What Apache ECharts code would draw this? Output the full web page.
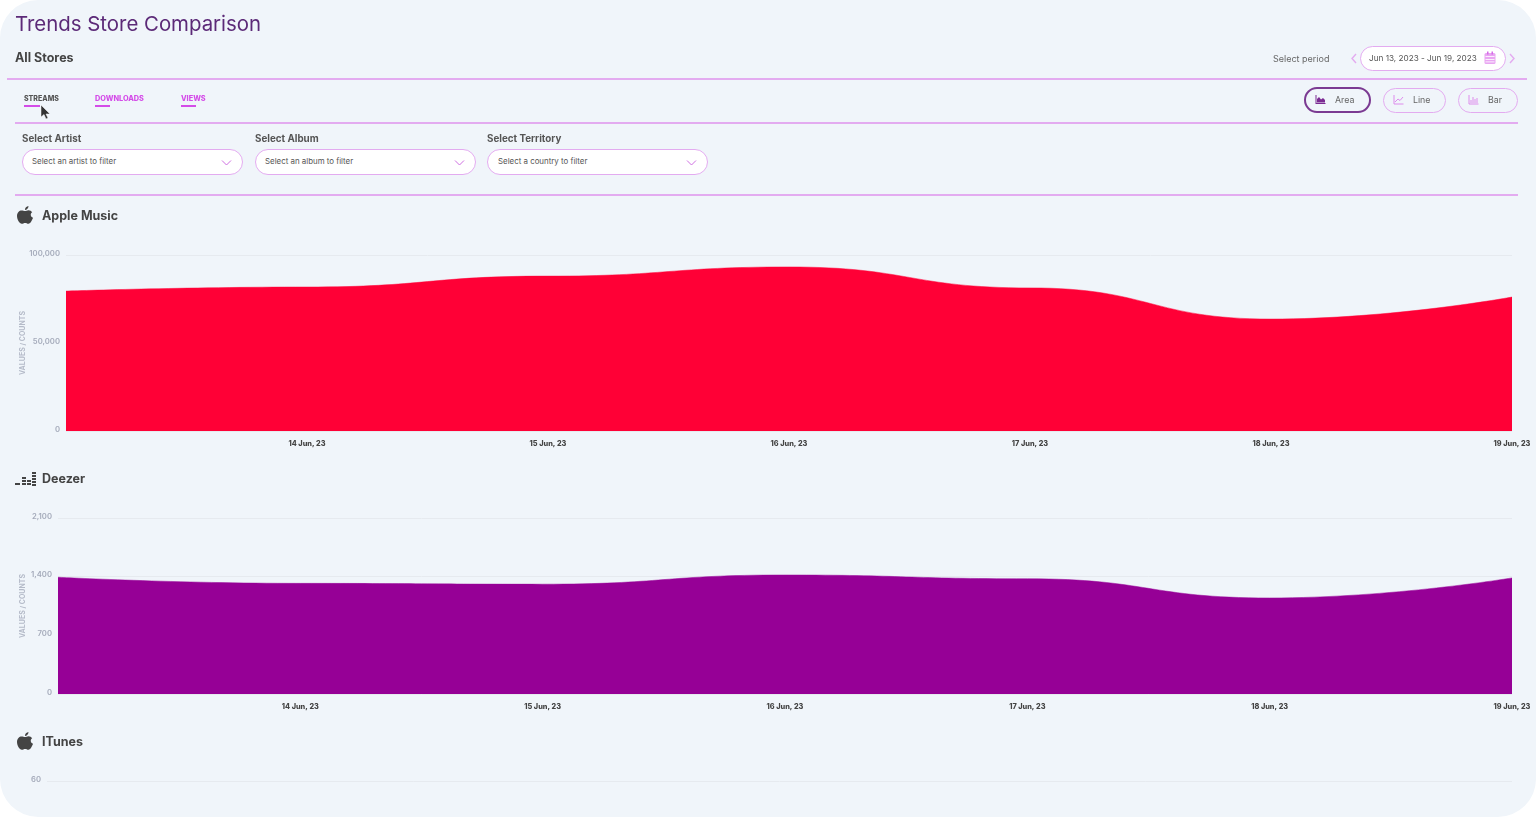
<!DOCTYPE html>
<html>
<head>
<meta charset="utf-8">
<title>Trends Store Comparison</title>
<style>
html,body{margin:0;padding:0;width:1536px;height:817px;overflow:hidden;background:#fff;font-family:"Inter","Noto Sans",sans-serif;}
#panel{position:absolute;left:0;top:0;width:1536px;height:817px;background:#f0f5fa;border-radius:38px;overflow:hidden;}
#main{position:absolute;left:0;top:0;width:1536px;height:1000px;}
.t{position:absolute;white-space:nowrap;line-height:1;}
.rule{position:absolute;height:2px;background:#e3abf0;}
.pill{position:absolute;box-sizing:border-box;border:1.8px solid #e3abf0;border-radius:14px;}
.white{background:#fff;}
svg{position:absolute;}
</style>
</head>
<body>
<div id="panel">
  <div id="main"></div>

  <div class="t" style="left:15px;top:14px;font-size:20.4px;color:#5c2a78;">Trends Store Comparison</div>
  <div class="t" style="left:15px;top:52px;font-size:12.5px;font-weight:700;color:#444;">All Stores</div>
  <div class="t" style="left:1273px;top:54px;font-size:9px;color:#666;">Select period</div>
  <svg style="left:1349px;top:52px" width="10" height="13"><path d="M7 2L3 6.5L7 11" fill="none" stroke="#e3abf0" stroke-width="1.4"/></svg>
  <div class="pill white" style="left:1360px;top:46px;width:146px;height:25px;"></div>
  <div class="t" style="left:1369px;top:54px;font-size:8.2px;color:#555;">Jun 13, 2023 - Jun 19, 2023</div>
  <svg style="left:1484px;top:51px" width="12" height="14"><rect x="0.5" y="2" width="11" height="11" rx="1.5" fill="#e9a6f2"/><rect x="1.5" y="5" width="9" height="0.8" fill="#fff"/><rect x="1.5" y="8" width="9" height="0.8" fill="#fff"/><rect x="1.5" y="10.5" width="9" height="0.8" fill="#fff"/><rect x="3" y="0.5" width="1.5" height="3" fill="#d66be8"/><rect x="7.5" y="0.5" width="1.5" height="3" fill="#d66be8"/></svg>
  <svg style="left:1507px;top:52px" width="10" height="13"><path d="M3 2L7 6.5L3 11" fill="none" stroke="#e3abf0" stroke-width="1.4"/></svg>

  <div class="rule" style="left:7px;top:78px;width:1520px;"></div>

  <div class="t" style="left:24px;top:95px;font-size:7px;font-weight:800;color:#555;">STREAMS</div>
  <div style="position:absolute;left:24px;top:105px;width:16px;height:1.5px;background:#d44ce8;"></div>
  <div class="t" style="left:95px;top:95px;font-size:7.3px;font-weight:800;color:#d44ce8;">DOWNLOADS</div>
  <div style="position:absolute;left:95px;top:105px;width:15px;height:1.5px;background:#d44ce8;"></div>
  <div class="t" style="left:181px;top:95px;font-size:7.3px;font-weight:800;color:#d44ce8;">VIEWS</div>
  <div style="position:absolute;left:181px;top:105px;width:15px;height:1.5px;background:#d44ce8;"></div>
  <svg style="left:40px;top:104px" width="11" height="17"><path d="M1 1V13L4 10.5L6 15L8 14L6 10H10Z" fill="#333" stroke="#fff" stroke-width="0.5"/></svg>

  <div class="pill" style="left:1304px;top:87px;width:67px;height:26px;border:2px solid #7b3a92;"></div>
  <svg style="left:1315px;top:95px" width="11" height="10"><path d="M0.5 0V9H10.5V8H1.5V0ZM2 7.5V4L4 2L6 4.5L8 3L10 5V7.5Z" fill="#7b2a92"/></svg>
  <div class="t" style="left:1335px;top:96px;font-size:8.8px;color:#666;">Area</div>
  <div class="pill" style="left:1383px;top:88px;width:63px;height:25px;"></div>
  <svg style="left:1393px;top:95px" width="11" height="10"><path d="M1 0V9H10.5M2 7L5 4L7 5.5L10 2" fill="none" stroke="#dd8cec" stroke-width="1"/></svg>
  <div class="t" style="left:1413px;top:96px;font-size:8.8px;color:#666;">Line</div>
  <div class="pill" style="left:1458px;top:88px;width:60px;height:25px;"></div>
  <svg style="left:1468px;top:95px" width="11" height="10"><path d="M1 0V9H10.5M3 8V5M5 8V2M7 8V4M9 8V3" fill="none" stroke="#dd8cec" stroke-width="1"/></svg>
  <div class="t" style="left:1488px;top:96px;font-size:8.8px;color:#666;">Bar</div>

  <div class="rule" style="left:15px;top:122px;width:1503px;"></div>

  <div class="t" style="left:22px;top:134px;font-size:9.8px;font-weight:700;color:#555;">Select Artist</div>
  <div class="pill white" style="left:22px;top:149px;width:221px;height:26px;"></div>
  <div class="t" style="left:32px;top:158px;font-size:7.9px;color:#555;">Select an artist to filter</div>
  <svg style="left:221px;top:159px" width="11" height="8"><path d="M1 1.5L5.5 6L10 1.5" fill="none" stroke="#cf6fe2" stroke-width="1"/></svg>

  <div class="t" style="left:255px;top:134px;font-size:9.8px;font-weight:700;color:#555;">Select Album</div>
  <div class="pill white" style="left:255px;top:149px;width:221px;height:26px;"></div>
  <div class="t" style="left:265px;top:158px;font-size:7.9px;color:#555;">Select an album to filter</div>
  <svg style="left:454px;top:159px" width="11" height="8"><path d="M1 1.5L5.5 6L10 1.5" fill="none" stroke="#cf6fe2" stroke-width="1"/></svg>

  <div class="t" style="left:487px;top:134px;font-size:9.8px;font-weight:700;color:#555;">Select Territory</div>
  <div class="pill white" style="left:487px;top:149px;width:221px;height:26px;"></div>
  <div class="t" style="left:498px;top:158px;font-size:7.9px;color:#555;">Select a country to filter</div>
  <svg style="left:686px;top:159px" width="11" height="8"><path d="M1 1.5L5.5 6L10 1.5" fill="none" stroke="#cf6fe2" stroke-width="1"/></svg>

  <div class="rule" style="left:15px;top:194px;width:1503px;"></div>

  <svg style="left:17px;top:206px" width="16" height="18" viewBox="0 0 16 18"><path d="M11.5 0C11.6 2.2 9.8 4 8 4C7.8 2 9.6 0.2 11.5 0ZM8 5C9 5 10 4.2 11.5 4.2C13 4.2 14.4 5 15.2 6.3C13 7.6 13.4 10.8 16 11.8C15.2 14 13.6 17.8 11.5 17.8C10.2 17.8 9.8 17 8.2 17C6.6 17 6 17.8 4.8 17.8C2.6 17.8 0 13.6 0 10C0 6.4 2.4 4.4 4.6 4.4C6 4.4 7 5 8 5Z" fill="#444"/></svg>
  <div class="t" style="left:42px;top:210px;font-size:12.5px;font-weight:700;color:#444;">Apple Music</div>

  <svg style="left:15px;top:472px" width="21" height="14"><g fill="#444"><rect x="0" y="11" width="5" height="2"/><rect x="7" y="5" width="4" height="2"/><rect x="7" y="8" width="4" height="2"/><rect x="7" y="11" width="4" height="2"/><rect x="12" y="8" width="4" height="2"/><rect x="12" y="11" width="4" height="2"/><rect x="17" y="0" width="4" height="2"/><rect x="17" y="3" width="4" height="2"/><rect x="17" y="6" width="4" height="2"/><rect x="17" y="9" width="4" height="2"/><rect x="17" y="12" width="4" height="2"/></g></svg>
  <div class="t" style="left:42px;top:473px;font-size:12.5px;font-weight:700;color:#444;">Deezer</div>

  <svg style="left:17px;top:732px" width="16" height="18" viewBox="0 0 16 18"><path d="M11.5 0C11.6 2.2 9.8 4 8 4C7.8 2 9.6 0.2 11.5 0ZM8 5C9 5 10 4.2 11.5 4.2C13 4.2 14.4 5 15.2 6.3C13 7.6 13.4 10.8 16 11.8C15.2 14 13.6 17.8 11.5 17.8C10.2 17.8 9.8 17 8.2 17C6.6 17 6 17.8 4.8 17.8C2.6 17.8 0 13.6 0 10C0 6.4 2.4 4.4 4.6 4.4C6 4.4 7 5 8 5Z" fill="#444"/></svg>
  <div class="t" style="left:42px;top:736px;font-size:12.5px;font-weight:700;color:#444;">ITunes</div>
</div>

<script src="https://cdn.jsdelivr.net/npm/echarts@6/dist/echarts.min.js"></script>
<script>
var categories = ['13 Jun, 23', '14 Jun, 23', '15 Jun, 23', '16 Jun, 23', '17 Jun, 23', '18 Jun, 23', '19 Jun, 23'];
var appleValues = [79500, 81800, 88000, 93200, 81300, 63600, 76100];
var deezerValues = [1393, 1320, 1310, 1420, 1375, 1146, 1385];
var itunesValues = []; // this chart is cut off by the window, no values visible
var appleTicks = [0, 50000, 100000];
var deezerTicks = [0, 700, 1400, 2100];
var itunesTicks = [0, 20, 40, 60];

var labelFont = 'Inter, "Noto Sans", sans-serif';
var chart = echarts.init(document.getElementById('main'), null, {renderer: 'canvas'});

function makeGrid(left, top) {
  return {left: left, top: top, width: 1512 - left, height: 176, containLabel: false};
}

function makeX(idx) {
  return {
    type: 'category',
    gridIndex: idx,
    data: categories,
    boundaryGap: false,
    axisLine: {show: false},
    axisTick: {show: false},
    splitLine: {show: false},
    axisLabel: {
      margin: 9,
      fontFamily: labelFont,
      fontSize: 7.3,
      fontWeight: 800,
      color: '#444',
      hideOverlap: false,
      interval: function (i) { return i > 0; }
    }
  };
}

function makeY(idx, ticks, gap) {
  return {
    type: 'value',
    gridIndex: idx,
    min: ticks[0],
    max: ticks[ticks.length - 1],
    interval: ticks[1] - ticks[0],
    name: 'VALUES / COUNTS',
    nameLocation: 'middle',
    nameGap: gap,
    nameMoveOverlap: false,
    nameTextStyle: {fontFamily: labelFont, fontSize: 7, fontWeight: 700, color: '#b4bac8'},
    axisLine: {show: false},
    axisTick: {show: false},
    splitLine: {lineStyle: {color: '#e6eaef', width: 1}},
    axisLabel: {
      margin: 6,
      fontFamily: labelFont,
      fontSize: 7.7,
      fontWeight: 600,
      color: '#a4aaba',
      verticalAlign: 'bottom',
      lineHeight: 3,
      formatter: function (v) { return v.toLocaleString('en-US'); }
    }
  };
}

function makeSeries(idx, values, color) {
  return {
    type: 'line',
    xAxisIndex: idx,
    yAxisIndex: idx,
    data: values,
    smooth: 0.5,
    smoothMonotone: 'x',
    symbol: 'none',
    lineStyle: {width: 0.5, color: color},
    areaStyle: {color: color, opacity: 1},
    silent: true
  };
}

var option = {
  animation: false,
  backgroundColor: 'transparent',
  grid: [makeGrid(66, 255), makeGrid(58, 518), makeGrid(47, 781)],
  xAxis: [makeX(0), makeX(1), makeX(2)],
  yAxis: [makeY(0, appleTicks, 40), makeY(1, deezerTicks, 32), makeY(2, itunesTicks, 21)],
  series: [
    makeSeries(0, appleValues, '#ff0036'),
    makeSeries(1, deezerValues, '#960096'),
    makeSeries(2, itunesValues, '#1e88e5')
  ]
};
chart.setOption(option);
</script>
</body>
</html>
